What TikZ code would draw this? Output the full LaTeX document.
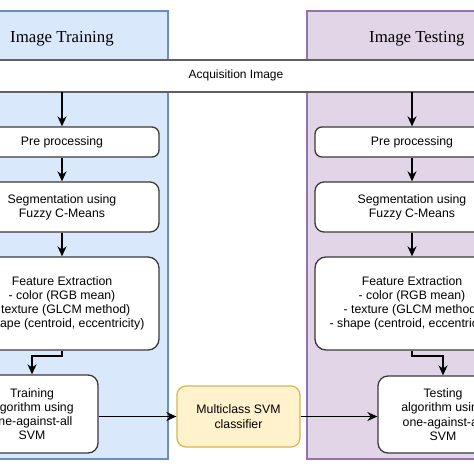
\documentclass[tikz,border=0pt]{standalone}
\usepackage{fontspec}
\setmainfont{Liberation Serif}
\setsansfont{Liberation Sans}
\usetikzlibrary{arrows.meta}
\definecolor{bluefill}{HTML}{DAE8FC}
\definecolor{blueline}{HTML}{6C8EBF}
\definecolor{purpfill}{HTML}{E1D5E7}
\definecolor{purpline}{HTML}{9673A6}
\definecolor{yelfill}{HTML}{FFF2CC}
\definecolor{yelline}{HTML}{D6B656}
\definecolor{boxline}{HTML}{3A3A3A}
\tikzset{
  panel/.style={draw=#1, line width=1.2pt},
  procbox/.style={draw=boxline, fill=white, line width=1.3pt, rounded corners=7pt,
    align=center, inner sep=2pt, font=\sffamily\fontsize{12.3}{14.2}\selectfont},
  svmbox/.style={procbox, draw=yelline, fill=yelfill},
  bar/.style={draw=boxline!80, fill=white, line width=1.3pt, inner sep=0pt,
    font=\sffamily\fontsize{12}{14}\selectfont},
  title/.style={font=\rmfamily\fontsize{16.8}{19}\selectfont, inner sep=0pt, anchor=base west},
  flow/.style={draw=black, line width=1.8pt, -{Stealth[length=10pt,width=9pt]}}
}
\begin{document}
\begin{tikzpicture}[x=1pt,y=-1pt]
\useasboundingbox (0,0) rectangle (474,474);
\clip (0,0) rectangle (474,474);
\fill[white] (0,0) rectangle (474,474);
% panels
\draw[panel=blueline, fill=bluefill] (-20,11) rectangle (168,459);
\draw[panel=purpline, fill=purpfill] (307,11) rectangle (494,459);
\node[title] (ttrain) at (10,42) {Image Training};
\node[title] (ttest) at (369,42) {Image Testing};
% acquisition bar
\node[bar, minimum width=514pt, minimum height=32pt] (acq) at (237,76) {};
\node[font=\sffamily\fontsize{12}{14}\selectfont, inner sep=0pt] (acqt) at (236,75) {Acquisition Image};
\coordinate (acqL) at (62,92);
\coordinate (acqR) at (412,92);
% left column
\node[procbox, minimum width=194pt, minimum height=30pt] (preL) at (62,142) {Pre processing};
\node[procbox, minimum width=194pt, minimum height=50pt, rounded corners=9pt] (segL) at (62,207) {Segmentation using\\Fuzzy C-Means};
\node[procbox, minimum width=194pt, minimum height=93pt, rounded corners=11pt] (featL) at (62,303.5) {Feature Extraction\\- color (RGB mean)\\- texture (GLCM method)\\- shape (centroid, eccentricity)};
\node[procbox, minimum width=132pt, minimum height=78pt, rounded corners=10pt] (train) at (32,414) {Training\\algorithm using\\one-against-all\\SVM};
% right column
\node[procbox, minimum width=194pt, minimum height=30pt] (preR) at (412,142) {Pre processing};
\node[procbox, minimum width=194pt, minimum height=50pt, rounded corners=9pt] (segR) at (412,207) {Segmentation using\\Fuzzy C-Means};
\node[procbox, minimum width=194pt, minimum height=93pt, rounded corners=11pt] (featR) at (412,303.5) {Feature Extraction\\- color (RGB mean)\\- texture (GLCM method)\\- shape (centroid, eccentricity)};
\node[procbox, minimum width=130pt, minimum height=77pt, rounded corners=10pt] (test) at (443,414.5) {Testing\\algorithm using\\one-against-all\\SVM};
% classifier
\node[svmbox, minimum width=123pt, minimum height=61pt, rounded corners=9pt] (svm) at (238.5,416.5) {Multiclass SVM\\classifier};
% arrows
\draw[flow] (acqL) -- (preL.north);
\draw[flow] (preL.south) -- (segL.north);
\draw[flow] (segL.south) -- (featL.north);
\draw[flow] (featL.south) -- ++(0,5) -| (train.north);
\draw[flow] (acqR) -- (preR.north);
\draw[flow] (preR.south) -- (segR.north);
\draw[flow] (segR.south) -- (featR.north);
\draw[flow] (featR.south) -- ++(0,5) -| (test.north);
\draw[flow] (svm.west -| train.east) -- (svm.west);
\draw[flow] (svm.east) -- (svm.east -| test.west);
\end{tikzpicture}
\end{document}
